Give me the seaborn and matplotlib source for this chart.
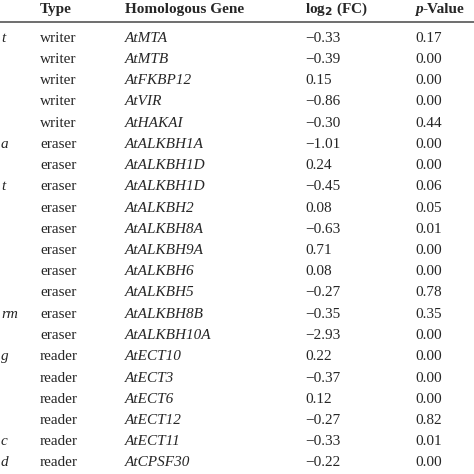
import matplotlib.pyplot as plt
import seaborn as sns

# table content
left_bits = ["t", "", "", "", "", "a", "", "t", "", "", "", "", "", "rm", "", "g", "", "", "", "c", "d"]
types = ["writer"] * 5 + ["eraser"] * 10 + ["reader"] * 6
genes = ["AtMTA", "AtMTB", "AtFKBP12", "AtVIR", "AtHAKAI", "AtALKBH1A", "AtALKBH1D",
         "AtALKBH1D", "AtALKBH2", "AtALKBH8A", "AtALKBH9A", "AtALKBH6", "AtALKBH5",
         "AtALKBH8B", "AtALKBH10A", "AtECT10", "AtECT3", "AtECT6", "AtECT12", "AtECT11",
         "AtCPSF30"]
log2fc = [-0.33, -0.39, 0.15, -0.86, -0.30, -1.01, 0.24, -0.45, 0.08, -0.63, 0.71,
          0.08, -0.27, -0.35, -2.93, 0.22, -0.37, 0.12, -0.27, -0.33, -0.22]
pvals = [0.17, 0.00, 0.00, 0.00, 0.44, 0.00, 0.00, 0.06, 0.05, 0.01, 0.00,
         0.00, 0.78, 0.35, 0.00, 0.00, 0.00, 0.00, 0.82, 0.01, 0.00]

sns.set_theme(style="white")
plt.rcParams["font.family"] = ["Liberation Serif", "DejaVu Serif"]

fig = plt.figure(figsize=(4.74, 4.74), dpi=100)
ax = fig.add_axes([0, 0, 1, 1])
ax.set_xlim(0, 474)
ax.set_ylim(474, 0)
ax.axis("off")

fs = 11
hy = 9
ax.text(40, hy, "Type", fontsize=fs, fontweight="bold", va="center")
ax.text(125, hy, "Homologous Gene", fontsize=fs, fontweight="bold", va="center")
ax.text(305, hy, r"log$_\mathbf{2}$ (FC)", fontsize=fs, fontweight="bold", va="center")
ax.text(415, hy, "p", fontsize=fs, fontweight="bold", fontstyle="italic", va="center")
ax.text(423, hy, "-Value", fontsize=fs, fontweight="bold", va="center")
ax.plot([0, 474], [22, 22], color="#555555", lw=1.2)

y0, dy = 38, 21.25
for i in range(len(types)):
    y = y0 + i * dy
    if left_bits[i]:
        ax.text(1, y, left_bits[i], fontsize=fs, fontstyle="italic", va="center", ha="left")
    ax.text(40, y, types[i], fontsize=fs, va="center")
    ax.text(125, y, genes[i], fontsize=fs, fontstyle="italic", va="center")
    v = log2fc[i]
    s = f"\u2212{abs(v):.2f}" if v < 0 else f"{v:.2f}"
    ax.text(305, y, s, fontsize=fs, va="center")
    ax.text(415, y, f"{pvals[i]:.2f}", fontsize=fs, va="center")

fig.savefig("out.png", dpi=100)
